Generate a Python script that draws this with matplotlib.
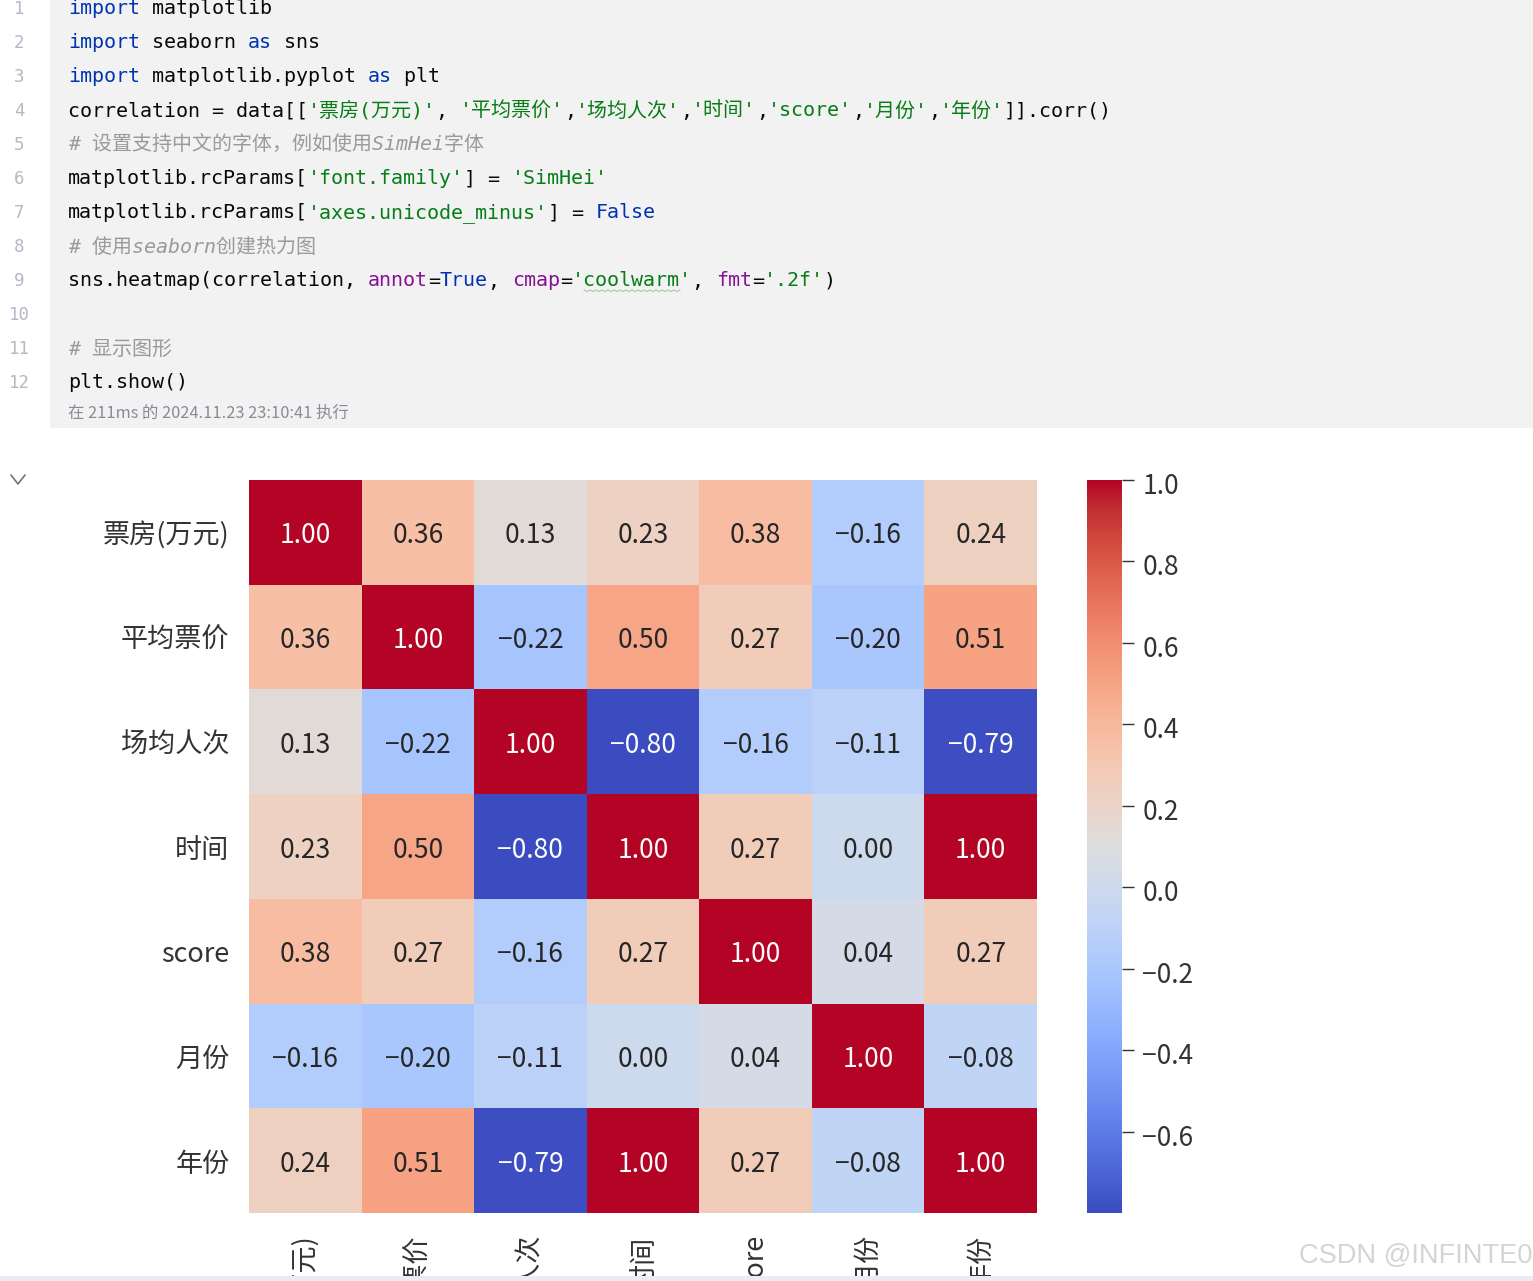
import numpy as np
import seaborn as sns
import matplotlib
matplotlib.use('Agg')
import matplotlib.pyplot as plt
from matplotlib.patches import Rectangle
from matplotlib.transforms import ScaledTranslation

labels = ['票房(万元)', '平均票价', '场均人次', '时间', 'score', '月份', '年份']
row_box = [1.00, 0.36, 0.13, 0.23, 0.38, -0.16, 0.24]
row_price = [0.36, 1.00, -0.22, 0.50, 0.27, -0.20, 0.51]
row_people = [0.13, -0.22, 1.00, -0.80, -0.16, -0.11, -0.79]
row_time = [0.23, 0.50, -0.80, 1.00, 0.27, 0.00, 1.00]
row_score = [0.38, 0.27, -0.16, 0.27, 1.00, 0.04, 0.27]
row_month = [-0.16, -0.20, -0.11, 0.00, 0.04, 1.00, -0.08]
row_year = [0.24, 0.51, -0.79, 1.00, 0.27, -0.08, 1.00]
cbar_ticks = [-0.6, -0.4, -0.2, 0.0, 0.2, 0.4, 0.6, 0.8, 1.0]

KW = '#0033b3'
STR = '#067d17'
COM = '#9a9a9a'
ARG = '#871094'
TXT = '#080808'

code_lines = [
    [('import', KW), (' matplotlib', TXT)],
    [('import', KW), (' seaborn ', TXT), ('as', KW), (' sns', TXT)],
    [('import', KW), (' matplotlib.pyplot ', TXT), ('as', KW), (' plt', TXT)],
    [('correlation = data[[', TXT), ("'票房(万元)'", STR), (', ', TXT), ("'平均票价'", STR), (',', TXT),
     ("'场均人次'", STR), (',', TXT), ("'时间'", STR), (',', TXT), ("'score'", STR), (',', TXT),
     ("'月份'", STR), (',', TXT), ("'年份'", STR), (']].corr()', TXT)],
    [('# 设置支持中文的字体，例如使用SimHei字体', COM)],
    [('matplotlib.rcParams[', TXT), ("'font.family'", STR), ('] = ', TXT), ("'SimHei'", STR)],
    [('matplotlib.rcParams[', TXT), ("'axes.unicode_minus'", STR), ('] = ', TXT), ('False', KW)],
    [('# 使用seaborn创建热力图', COM)],
    [('sns.heatmap(correlation, ', TXT), ('annot', ARG), ('=', TXT), ('True', KW), (', ', TXT), ('cmap', ARG),
     ('=', TXT), ("'coolwarm'", STR), (', ', TXT), ('fmt', ARG), ('=', TXT), ("'.2f'", STR), (')', TXT)],
    [],
    [('# 显示图形', COM)],
    [('plt.show()', TXT)],
]
run_info = '在 211ms 的 2024.11.23 23:10:41 执行'
watermark = 'CSDN @INFINTE0'

W, H = 1533, 1281


def px_axes(x0, y0, x1, y1):
    # axes placed with pixel coords, y measured from the top
    return fig.add_axes([x0 / W, 1 - y1 / H, (x1 - x0) / W, (y1 - y0) / H])


def token_width(s):
    return sum(20 if ord(c) > 0x2E80 else 12 for c in s)


sns.set_style('white')
plt.rcParams['font.family'] = ['Noto Sans CJK SC', 'DejaVu Sans']
plt.rcParams['axes.unicode_minus'] = True

fig = plt.figure(figsize=(W / 100, H / 100), dpi=100)

bg = fig.add_axes([0, 0, 1, 1])
bg.set_xlim(0, W)
bg.set_ylim(H, 0)
bg.axis('off')
bg.add_patch(Rectangle((50, 0), W - 50, 428, color='#f2f2f2', lw=0))

mono = ['DejaVu Sans Mono', 'Noto Sans CJK SC']
for i, tokens in enumerate(code_lines):
    y = 9 + 34 * i
    bg.text(19, y, str(i + 1), color='#b4b9c6', fontsize=12.5, ha='center', va='center', family=mono)
    x = 68
    for s, col in tokens:
        style = 'italic' if col == COM else 'normal'
        bg.text(x, y, s, color=col, fontsize=14.4, va='center', family=mono, style=style)
        x += token_width(s)

# squiggle under 'coolwarm'
sx = np.arange(584, 681, 3)
bg.plot(sx, 290 + 1.5 * (np.arange(len(sx)) % 2), color='#a9cfa9', lw=0.9)

bg.text(68, 413, run_info, color='#8a8b99', fontsize=11.8, va='center')
bg.plot([11, 18, 25], [475, 484, 475], color='#6e7480', lw=1.2)

correlation = np.array([row_box, row_price, row_people, row_time, row_score, row_month, row_year])
annot_text = np.array([[f'{v:.2f}'.replace('-', '\u2212') for v in row] for row in correlation])

ax = px_axes(249, 480, 1037, 1213)
cax = px_axes(1087, 480, 1122, 1213)
sns.heatmap(correlation, annot=annot_text, fmt='', cmap='coolwarm', ax=ax, cbar_ax=cax,
            vmin=-0.80, vmax=1.00, xticklabels=labels, yticklabels=labels,
            annot_kws={'fontsize': 19})
ax.tick_params(axis='y', length=0, pad=14, labelsize=19.5, labelrotation=0, labelcolor='#333333')
ax.tick_params(axis='x', length=0, pad=15.5, labelsize=19.5, labelrotation=90, labelcolor='#333333')

cax.set_yticks(cbar_ticks)
cax.set_yticklabels([f'{t:.1f}'.replace('-', '\u2212') for t in cbar_ticks])
cax.tick_params(axis='y', right=True, length=8.6, width=1, pad=6, labelsize=19, labelcolor='#333333', color='#333333')

# CJK font sits high compared with the original, nudge everything down a bit
nudge = ScaledTranslation(0, -0.035, fig.dpi_scale_trans)
for t in list(ax.texts) + ax.get_yticklabels() + cax.get_yticklabels():
    t.set_transform(t.get_transform() + nudge)

fig.add_artist(Rectangle((0, 0), 1, 5 / H, transform=fig.transFigure, color='#ebebf3', lw=0, zorder=5))
fig.text(1299 / W, 1 - 1256 / H, watermark, color='#d4d4d4', fontsize=19.6, va='center',
         family='Liberation Sans', zorder=6)

fig.savefig('out.png', dpi=100)
